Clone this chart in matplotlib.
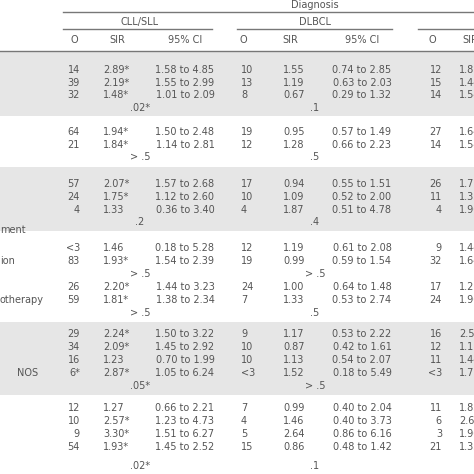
import matplotlib
matplotlib.use("Agg")
import matplotlib.pyplot as plt

CLL_O = ["14", "39", "32", "64", "21", "57", "24", "4", "<3", "83", "26", "59",
         "29", "34", "16", "6*", "12", "10", "9", "54"]
CLL_SIR = ["2.89*", "2.19*", "1.48*", "1.94*", "1.84*", "2.07*", "1.75*", "1.33",
           "1.46", "1.93*", "2.20*", "1.81*", "2.24*", "2.09*", "1.23", "2.87*",
           "1.27", "2.57*", "3.30*", "1.93*"]
CLL_CI = ["1.58 to 4.85", "1.55 to 2.99", "1.01 to 2.09", "1.50 to 2.48",
          "1.14 to 2.81", "1.57 to 2.68", "1.12 to 2.60", "0.36 to 3.40",
          "0.18 to 5.28", "1.54 to 2.39", "1.44 to 3.23", "1.38 to 2.34",
          "1.50 to 3.22", "1.45 to 2.92", "0.70 to 1.99", "1.05 to 6.24",
          "0.66 to 2.21", "1.23 to 4.73", "1.51 to 6.27", "1.45 to 2.52"]
CLL_P = [".02*", "> .5", ".2", "> .5", "> .5", ".05*", ".02*"]

DLB_O = ["10", "13", "8", "19", "12", "17", "10", "4", "12", "19", "24", "7",
         "9", "10", "10", "<3", "7", "4", "5", "15"]
DLB_SIR = ["1.55", "1.19", "0.67", "0.95", "1.28", "0.94", "1.09", "1.87",
           "1.19", "0.99", "1.00", "1.33", "1.17", "0.87", "1.13", "1.52",
           "0.99", "1.46", "2.64", "0.86"]
DLB_CI = ["0.74 to 2.85", "0.63 to 2.03", "0.29 to 1.32", "0.57 to 1.49",
          "0.66 to 2.23", "0.55 to 1.51", "0.52 to 2.00", "0.51 to 4.78",
          "0.61 to 2.08", "0.59 to 1.54", "0.64 to 1.48", "0.53 to 2.74",
          "0.53 to 2.22", "0.42 to 1.61", "0.54 to 2.07", "0.18 to 5.49",
          "0.40 to 2.04", "0.40 to 3.73", "0.86 to 6.16", "0.48 to 1.42"]
DLB_P = [".1", ".5", ".4", "> .5", ".5", "> .5", ".1"]

OTH_O = ["12", "15", "14", "27", "14", "26", "11", "4", "9", "32", "17", "24",
         "16", "12", "11", "<3", "11", "6", "3", "21"]
OTH_SIR = ["1.85", "1.44", "1.54", "1.64", "1.54", "1.71", "1.33", "1.96",
           "1.44", "1.64", "1.22", "1.96", "2.54", "1.1", "1.44", "1.71",
           "1.83", "2.64", "1.96", "1.33"]

LEFT_LABELS = [("ment", 0, 230), ("ion", 0, 261), ("otherapy", 0, 300), ("NOS", 17, 373)]

# row layout (pixel y of each data row) and p-value rows
ROW_Y = [70, 83, 95, 132, 145, 184, 197, 210, 248, 261, 287, 300,
         334, 347, 360, 373, 408, 421, 434, 447]
P_Y = [108, 157, 222, 274, 313, 386, 466]
BANDS = [(52, 116), (167, 231), (322, 395)]

TXT = "#555555"
FS = 7

fig = plt.figure(figsize=(4.74, 4.74), dpi=100)
ax = fig.add_axes([0, 0, 1, 1])
ax.set_xlim(0, 474)
ax.set_ylim(474, 0)
ax.axis("off")

for y0, y1 in BANDS:
    ax.axhspan(y0, y1, color="#e6e6e6", lw=0)

# header rules
ax.plot([63, 474], [12, 12], color="#777777", lw=1.0)
ax.plot([0, 474], [51, 51], color="#777777", lw=1.0)
for x0, x1 in [(63, 212), (237, 392), (418, 474)]:
    ax.plot([x0, x1], [29, 29], color="#777777", lw=1.0)

ax.text(315, 5, "Diagnosis", color=TXT, fontsize=FS, ha="center", va="center")
ax.text(140, 22, "CLL/SLL", color=TXT, fontsize=FS, ha="center", va="center")
ax.text(315, 22, "DLBCL", color=TXT, fontsize=FS, ha="center", va="center")
for x, s, ha in [(74, "O", "center"), (117, "SIR", "center"), (185, "95% CI", "center"),
                 (243, "O", "center"), (290, "SIR", "center"), (362, "95% CI", "center"),
                 (432, "O", "center"), (462, "SIR", "left")]:
    ax.text(x, 40, s, color=TXT, fontsize=FS, ha=ha, va="center")

for s, x, y in LEFT_LABELS:
    ax.text(x, y, s, color=TXT, fontsize=FS, ha="left", va="center")

for i, y in enumerate(ROW_Y):
    ax.text(80, y, CLL_O[i], color=TXT, fontsize=FS, ha="right", va="center")
    ax.text(103, y, CLL_SIR[i], color=TXT, fontsize=FS, ha="left", va="center")
    ax.text(185, y, CLL_CI[i], color=TXT, fontsize=FS, ha="center", va="center")
    ax.text(241, y, DLB_O[i], color=TXT, fontsize=FS, ha="left", va="center")
    ax.text(283, y, DLB_SIR[i], color=TXT, fontsize=FS, ha="left", va="center")
    ax.text(362, y, DLB_CI[i], color=TXT, fontsize=FS, ha="center", va="center")
    ax.text(442, y, OTH_O[i], color=TXT, fontsize=FS, ha="right", va="center")
    ax.text(459, y, OTH_SIR[i], color=TXT, fontsize=FS, ha="left", va="center")

for i, y in enumerate(P_Y):
    ax.text(140, y, CLL_P[i], color=TXT, fontsize=FS, ha="center", va="center")
    ax.text(315, y, DLB_P[i], color=TXT, fontsize=FS, ha="center", va="center")

fig.savefig("out.png", dpi=100, facecolor="white")
